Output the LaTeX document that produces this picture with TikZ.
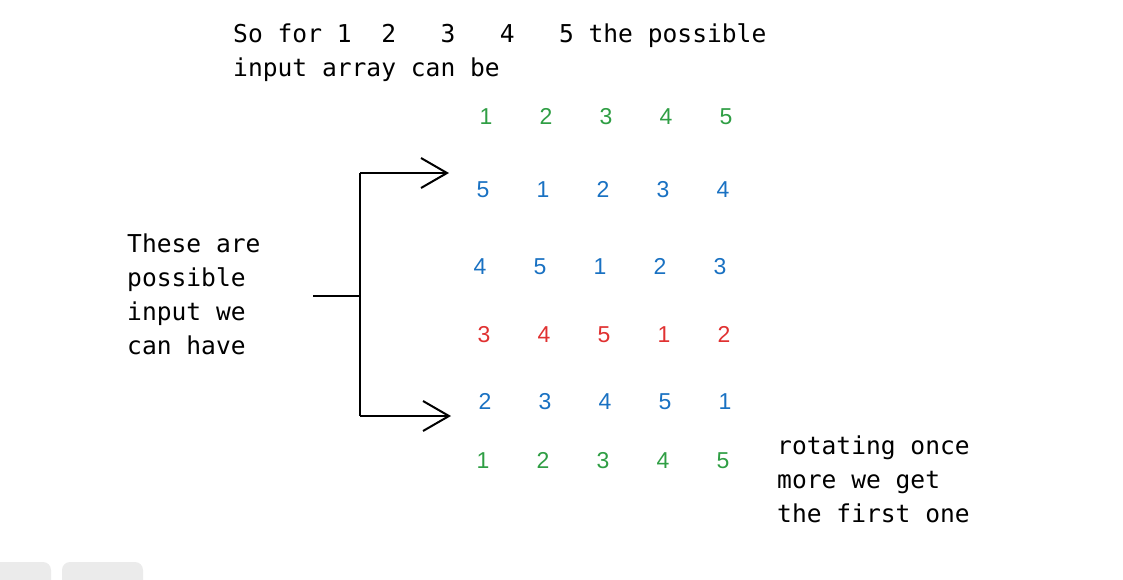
\documentclass[tikz,border=0pt]{standalone}
\usepackage{fontspec}
\setmainfont{DejaVu Sans Mono}
\newfontfamily\numf{Liberation Sans}
\usetikzlibrary{arrows.meta}
\definecolor{g}{HTML}{2F9E44}
\definecolor{b}{HTML}{1971C2}
\definecolor{r}{HTML}{E03131}
\begin{document}
\begin{tikzpicture}[x=1pt,y=-1pt,
  txt/.style={anchor=base west,inner sep=0,font=\fontsize{24.6}{28}\selectfont},
  num/.style={anchor=base,inner sep=0,font=\numf\fontsize{23}{28}\selectfont},
  ln/.style={line width=2pt,black},
  arr/.style={ln,-{Straight Barb[length=26pt,width=30pt,line width=2pt]}}]
\useasboundingbox (0,0) rectangle (1123,579);
\fill[fill=black!8, rounded corners=8] (-10,562) rectangle (51,600);
\fill[fill=black!8, rounded corners=8] (62,562) rectangle (143,600);
\node[txt] (t1) at (233,42) {So\ for\ 1\ \ 2\ \ \ 3\ \ \ 4\ \ \ 5\ the\ possible};
\node[txt] (t2) at (233,76) {input\ array\ can\ be};
\node[txt] (l1) at (127,252) {These\ are};
\node[txt] (l2) at (127,286) {possible};
\node[txt] (l3) at (127,320) {input\ we};
\node[txt] (l4) at (127,354) {can\ have};
\node[txt] (r1) at (777,454) {rotating\ once};
\node[txt] (r2) at (777,488) {more\ we\ get};
\node[txt] (r3) at (777,522) {the\ first\ one};
\foreach \v [count=\i] in {1,2,3,4,5} \node[num,text=g] (a\i) at (426+60*\i,124) {\v};
\foreach \v [count=\i] in {5,1,2,3,4} \node[num,text=b] (b\i) at (423+60*\i,197) {\v};
\foreach \v [count=\i] in {4,5,1,2,3} \node[num,text=b] (c\i) at (420+60*\i,274) {\v};
\foreach \v [count=\i] in {3,4,5,1,2} \node[num,text=r] (d\i) at (424+60*\i,342) {\v};
\foreach \v [count=\i] in {2,3,4,5,1} \node[num,text=b] (e\i) at (425+60*\i,409) {\v};
\foreach \v [count=\i] in {1,2,3,4,5} \node[num,text=g] (f\i) at (423+60*\i,468) {\v};
\coordinate (top) at (360,173);
\coordinate (bot) at (360,416);
\coordinate (mid) at (360,296);
\coordinate (stub) at (313,296);
\coordinate (ha) at (449,173);
\coordinate (hb) at (451,416);
\draw[ln] (top) -- (bot);
\draw[ln] (stub) -- (mid);
\draw[arr] (top) -- (ha);
\draw[arr] (bot) -- (hb);
\end{tikzpicture}
\end{document}
